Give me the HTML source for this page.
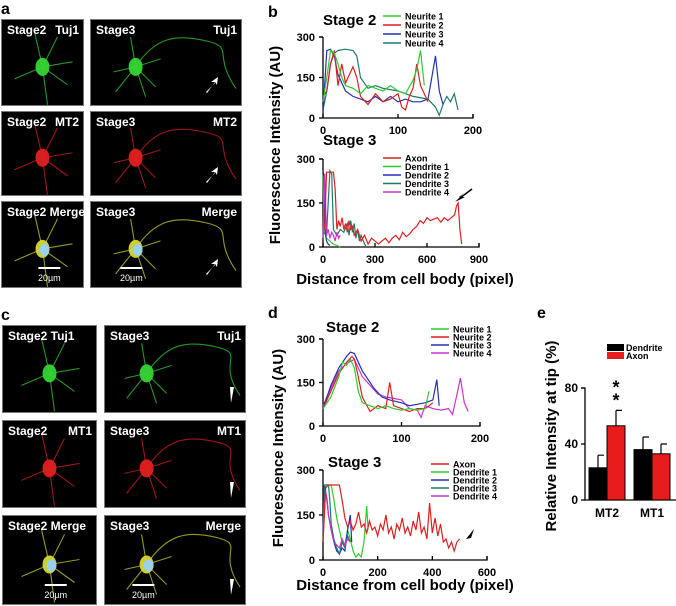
<!DOCTYPE html>
<html><head><meta charset="utf-8"><style>
body{margin:0;background:#fff;}
svg{display:block;font-family:"Liberation Sans",Arial,sans-serif;font-weight:bold;}
</style></head><body>
<svg id="fig" width="676" height="606" viewBox="0 0 676 606" xmlns="http://www.w3.org/2000/svg">
<g id="micro"></g>
<g id="charts"></g>
</svg>
<script>
// ---------- chart data ----------
const bS2N1=[[0,60],[5,150],[10,250],[15,240],[20,200],[25,150],[30,120],[40,110],[50,90],[60,120],[70,110],[80,100],[90,120],[100,100],[110,90],[120,140],[125,180],[130,250],[135,120]];
const bS2N2=[[0,80],[5,100],[10,200],[15,250],[20,120],[25,200],[30,130],[35,160],[40,190],[45,150],[50,80],[60,50],[70,90],[80,60],[90,70],[100,90],[105,40],[110,30],[115,80],[120,110],[125,200],[130,120],[140,60]];
const bS2N3=[[0,20],[5,250],[10,255],[15,230],[20,160],[25,130],[30,100],[40,80],[50,70],[60,60],[70,80],[80,60],[90,80],[100,60],[110,70],[120,60],[130,60],[140,70],[145,150],[150,230],[155,100],[160,50]];
const bS2N4=[[0,30],[5,100],[10,200],[15,240],[20,250],[30,255],[40,250],[45,230],[50,150],[60,110],[70,120],[80,110],[100,100],[120,80],[140,70],[150,40],[155,10],[160,50],[165,80],[170,60],[175,90],[180,30]];
const bS3Axon=[[10,60],[20,255],[60,255],[70,200],[80,60],[90,90],[100,70],[110,100],[120,60],[130,80],[140,50],[150,90],[160,60],[170,70],[180,40],[190,50],[200,60],[220,20],[240,40],[260,10],[280,30],[300,20],[320,10],[340,20],[360,30],[380,15],[400,30],[420,40],[440,25],[460,50],[480,35],[500,45],[520,60],[540,70],[560,90],[580,80],[600,100],[620,90],[640,95],[660,100],[680,85],[700,100],[720,90],[740,100],[760,110],[770,140],[780,150],[790,60],[800,10]];
const bS3D1=[[0,250],[5,100],[10,50],[20,30],[40,20],[60,10],[80,5],[100,0]];
const bS3D2=[[0,260],[5,240],[10,80],[15,40],[20,20],[30,10],[40,5]];
const bS3D3=[[0,50],[20,40],[40,260],[50,250],[60,60],[80,40],[100,60],[120,50],[140,80],[150,40],[160,90],[170,50],[180,80],[190,30],[200,60],[210,20],[220,40],[240,10],[250,0]];
const bS3D4=[[0,30],[10,250],[20,40],[30,60],[40,30],[50,50],[60,40],[70,20],[80,50],[90,30],[100,40]];
const dS2N1=[[0,60],[10,100],[20,170],[25,220],[30,210],[35,230],[40,200],[45,120],[50,80],[60,70],[70,60],[80,70],[90,60],[100,55],[110,60],[120,55],[130,60],[135,120]];
const dS2N2=[[0,60],[10,120],[20,180],[30,220],[37,240],[40,230],[45,170],[50,100],[60,50],[70,70],[80,60],[85,150],[90,70],[100,60],[110,50],[120,60],[130,60],[140,80]];
const dS2N3=[[0,60],[10,140],[20,200],[30,240],[35,255],[40,250],[50,190],[55,170],[65,130],[75,100],[85,90],[100,80],[110,70],[120,75],[130,80],[140,90],[145,160],[148,70]];
const dS2N4=[[0,70],[10,130],[20,190],[30,215],[40,230],[50,170],[60,140],[70,110],[80,100],[90,95],[100,90],[110,60],[120,55],[125,30],[130,70],[140,60],[150,55],[160,60],[165,40],[170,100],[175,165],[180,80],[185,50]];
const dS3Axon=[[0,60],[10,240],[20,250],[40,250],[60,250],[70,200],[80,140],[90,110],[100,130],[110,100],[120,120],[130,160],[140,110],[150,120],[160,90],[170,130],[180,100],[190,110],[200,80],[210,120],[220,100],[230,150],[240,90],[250,110],[260,70],[270,120],[280,100],[290,140],[300,90],[310,110],[320,80],[330,130],[340,100],[350,160],[360,90],[370,110],[380,70],[390,190],[400,90],[410,140],[420,80],[430,120],[440,60],[450,70],[460,40],[470,60],[480,30],[490,60],[500,70]];
const dS3D1=[[0,60],[10,250],[30,250],[40,200],[50,140],[60,100],[70,60],[80,50],[90,100],[100,70],[110,30],[120,10],[130,20],[140,10],[150,60],[160,180],[165,100]];
const dS3D2=[[0,100],[5,250],[15,200],[20,150],[30,100],[40,60],[50,30],[60,20],[70,40],[80,30],[90,100],[100,150],[105,60]];
const dS3D3=[[0,80],[5,250],[20,250],[25,200],[30,120],[40,70],[50,40],[60,20],[70,60],[80,40],[90,80],[100,60]];
const dS3D4=[[0,100],[10,230],[20,150],[30,100],[40,60],[50,50],[60,40],[70,70],[80,50],[90,70],[100,60]];
const eCategories=["MT2","MT1"];
const eDendrite=[23,36];
const eDendriteErr=[9,9];
const eAxon=[53,33];
const eAxonErr=[11,7];
const eTicks=[0,40,80];

const NS="http://www.w3.org/2000/svg";
const C={g:"#2ecc2e",r:"#dd2020",b:"#2230b0",t:"#1f7a6c",m:"#cc33cc"};
function mk(tag,attrs,parent,txt){const e=document.createElementNS(NS,tag);for(const k in attrs)e.setAttribute(k,attrs[k]);if(txt!==undefined)e.textContent=txt;parent.appendChild(e);return e;}
const charts=document.getElementById('charts');
const micro=document.getElementById('micro');

function axes(g,ox,oy,w,h,xmax,xticks,ymax,yticks){
  const sx=v=>ox+v/xmax*w, sy=v=>oy-v/ymax*h;
  const ax=mk('path',{d:`M${ox},${oy-h}H${ox-4}M${ox},${oy-h}V${oy}H${ox+w}v-4`,stroke:'#000','stroke-width':1.3,fill:'none'},g);
  
  
  yticks.forEach(v=>{mk('path',{d:`M${ox-4},${sy(v)}H${ox}`,stroke:'#000','stroke-width':1.3},g);
    const t=mk('text',{x:ox-8,y:sy(v)+4,'text-anchor':'end','font-size':11},g,String(v));
    
    });
  xticks.forEach(v=>{mk('path',{d:`M${sx(v)},${oy}v-4`,stroke:'#000','stroke-width':1.3},g);
    const t=mk('text',{x:sx(v),y:oy+16,'text-anchor':'middle','font-size':11},g,String(v));
    
    });
  return {sx,sy};
}
function line(g,s,data,col,name){
  const p=mk('path',{d:data.map((d,i)=>(i?'L':'M')+s.sx(d[0]).toFixed(1)+','+s.sy(d[1]).toFixed(1)).join(''),stroke:col,'stroke-width':1.2,fill:'none'},g);
  
  
}
function legend(g,x,y,items,dy){
  items.forEach((it,i)=>{mk('path',{d:`M${x},${y+i*dy}h18`,stroke:it[1],'stroke-width':1.5},g);
    const t=mk('text',{x:x+22,y:y+i*dy+3.5,'font-size':9},g,it[0]);
    
    });
}
function txt(g,x,y,s,size,name,anchor,rot){
  const a={x,y,'font-size':size,'text-anchor':anchor||'start'};
  if(rot)a.transform=`rotate(-90 ${x} ${y})`;
  const t=mk('text',a,g,s);
  
  
}

// ---- panel b ----
(function(){
  const g=mk('g',{},charts);
  
  
  txt(g,268,17,'b',16,'panel-label-b');
  txt(g,323,25,'Stage 2',15,'stage2-title');
  let s=axes(g,323,118,150,81,200,[0,100,200],300,[0,150,300]);
  line(g,s,bS2N4,C.t,'neurite-4-line');line(g,s,bS2N3,C.b,'neurite-3-line');line(g,s,bS2N2,C.r,'neurite-2-line');line(g,s,bS2N1,C.g,'neurite-1-line');
  legend(g,383,16,[['Neurite 1',C.g],['Neurite 2',C.r],['Neurite 3',C.b],['Neurite 4',C.t]],9);
  txt(g,323,145,'Stage 3',15,'stage3-title');
  s=axes(g,323,247,156,88,900,[0,300,600,900],300,[0,150,300]);
  line(g,s,bS3D1,C.g,'dendrite-1-line');line(g,s,bS3D2,C.b,'dendrite-2-line');line(g,s,bS3D3,C.t,'dendrite-3-line');line(g,s,bS3D4,C.m,'dendrite-4-line');line(g,s,bS3Axon,C.r,'axon-line');
  legend(g,383,158,[['Axon',C.r],['Dendrite 1',C.g],['Dendrite 2',C.b],['Dendrite 3',C.t],['Dendrite 4',C.m]],8.5);
  mk('path',{d:'M472,189 L460,198',stroke:'#000','stroke-width':1.5},g);
  mk('path',{d:'M455,202 L464,193 L459,197 L465,197Z',fill:'#000'},g);
  txt(g,280,145,'Fluorescence Intensity (AU)',15,'y-axis-title','middle',true);
  txt(g,405,284,'Distance from cell body (pixel)',15,'x-axis-title','middle');
})();

// ---- panel d ----
(function(){
  const g=mk('g',{},charts);
  
  
  txt(g,268,318,'d',16,'panel-label-d');
  txt(g,326,332,'Stage 2',15,'stage2-title');
  let s=axes(g,323,426,157,87,200,[0,100,200],300,[0,150,300]);
  line(g,s,dS2N4,C.m,'neurite-4-line');line(g,s,dS2N3,C.b,'neurite-3-line');line(g,s,dS2N2,C.r,'neurite-2-line');line(g,s,dS2N1,C.g,'neurite-1-line');
  legend(g,431,329,[['Neurite 1',C.g],['Neurite 2',C.r],['Neurite 3',C.b],['Neurite 4',C.m]],8);
  txt(g,328,467,'Stage 3',15,'stage3-title');
  s=axes(g,323,560,164,90,600,[0,200,400,600],300,[0,150,300]);
  line(g,s,dS3D1,C.g,'dendrite-1-line');line(g,s,dS3D2,C.b,'dendrite-2-line');line(g,s,dS3D3,C.t,'dendrite-3-line');line(g,s,dS3D4,C.m,'dendrite-4-line');line(g,s,dS3Axon,C.r,'axon-line');
  legend(g,431,464,[['Axon',C.r],['Dendrite 1',C.g],['Dendrite 2',C.b],['Dendrite 3',C.t],['Dendrite 4',C.m]],8);
  mk('path',{d:'M474,529 L466,539 L471,538 L470,541Z',fill:'#000'},g);
  txt(g,283,448,'Fluorescence Intensity (AU)',15,'y-axis-title','middle',true);
  txt(g,405,590,'Distance from cell body (pixel)',15,'x-axis-title','middle');
})();

// ---- panel e ----
(function(){
  const g=mk('g',{},charts);
  
  
  txt(g,537,318,'e',16,'panel-label-e');
  const ox=585,oy=500,h=112,ymax=80;
  const sy=v=>oy-v/ymax*h;
  mk('path',{d:`M${ox-4},${sy(80)}H${ox}V${oy}H676`,stroke:'#000','stroke-width':1.3,fill:'none'},g);
  eTicks.forEach(v=>{mk('path',{d:`M${ox-4},${sy(v)}H${ox}`,stroke:'#000','stroke-width':1.3},g);
    txt(g,ox-7,sy(v)+4,String(v),12,'y-tick-label','end');});
  const gw=45, bw=18;
  eCategories.forEach((c,i)=>{
    const x0=ox+4+i*gw;
    [[eDendrite,eDendriteErr,'#000','dendrite'],[eAxon,eAxonErr,'#e81c1c','axon']].forEach((ser,j)=>{
      const v=ser[0][i],e=ser[1][i],x=x0+j*bw;
      mk('path',{d:`M${x+bw/2},${sy(v)}V${sy(v+e)}M${x+bw/2},${sy(v+e)}h6`,stroke:'#000','stroke-width':1.2},g);
      const r=mk('rect',{x:x,y:sy(v),width:bw,height:oy-sy(v),fill:ser[2],stroke:'#000','stroke-width':1},g);
      
      
    });
    txt(g,x0+bw,oy+17,c,12,'x-tick-label','middle');
  });
  txt(g,ox+4+bw*1.5,sy(eAxon[0]+eAxonErr[0])-4,'*',18,'significance-star','middle');
  txt(g,ox+4+bw*1.5,sy(eAxon[0]+eAxonErr[0])-17,'*',18,'significance-star','middle');
  mk('rect',{x:607,y:344,width:17,height:7,fill:'#000'},g);
  mk('rect',{x:607,y:352,width:17,height:7,fill:'#e81c1c'},g);
  txt(g,626,351,'Dendrite',9,'legend-entry');
  txt(g,626,359,'Axon',9,'legend-entry');
  txt(g,556,436,'Relative Intensity at tip (%)',15,'y-axis-title','middle',true);
})();

// ---- micrographs ----
function panel(x,y,w,h,lt,rt,col,wide,name,scale,mark){
  const g=mk('g',{},micro);
  
  
  mk('rect',{x:x+.5,y:y+.5,width:w-1,height:h-1,fill:'#000',stroke:'#777','stroke-width':1},g);
  const cx=wide?x+w*0.3:x+w*0.5, cy=y+h*0.55;
  let d;
  if(wide) d=`M${cx},${cy} C${cx+20},${cy-30} ${cx+40},${y+15} ${cx+70},${y+h*0.25} S${x+w-30},${y+h*0.4} ${x+w-6},${y+h*0.8} M${cx},${cy} L${cx-22},${cy+5} M${cx},${cy} L${cx-20},${cy+25} M${cx},${cy} L${cx+25},${cy-8} M${cx},${cy} L${cx+20},${cy+20} M${cx},${cy} L${cx-5},${cy-30} M${cx},${cy} L${cx+10},${cy+30}`;
  else d=`M${cx},${cy} L${cx-28},${cy+12} M${cx},${cy} L${cx+25},${cy+18} M${cx},${cy} L${cx-8},${cy-35} M${cx},${cy} L${cx+15},${cy-30} M${cx},${cy} L${cx+5},${cy+38} M${cx},${cy} L${cx+30},${cy-5}`;
  mk('path',{d,stroke:col,'stroke-width':1.1,fill:'none',opacity:0.7},g);
  mk('ellipse',{cx,cy,rx:7,ry:9,fill:col,opacity:0.95},g);
  if(col==='#d8d830') mk('ellipse',{cx:cx+2,cy:cy+1,rx:5,ry:6,fill:'#9ad0f0'},g);
  const t1=mk('text',{x:x+6,y:y+15,fill:'#fff','font-size':12},g,lt);
  
  
  if(rt){const t2=mk('text',{x:x+w-5,y:y+15,fill:'#fff','font-size':12,'text-anchor':'end'},g,rt);
    
    }
  if(scale){mk('path',{d:`M${x+w*(wide?0.2:0.45)},${y+h-20}h22`,stroke:'#fff','stroke-width':2},g);
    const t3=mk('text',{x:x+w*(wide?0.2:0.45)+11,y:y+h-7,fill:'#fff','font-size':9,'text-anchor':'middle','font-weight':'normal'},g,'20µm');
    
    }
  if(mark==='arrow') mk('path',{d:`M${x+w-36},${y+h-14} l10,-10 l-5,0 l7,-5 l-1,8 l-2,-3 l-8,11Z`,fill:'#fff'},g);
  if(mark==='tri') mk('path',{d:`M${x+w-16},${y+h-26} l4,0 l-3,16Z`,fill:'#fff'},g);
}
const G='#34d634',R='#e02020',Y='#d8d830';
panel(1,19,83,87,'Stage2','Tuj1',G,false,'a-stage2-tuj1');
panel(90,19,152,87,'Stage3','Tuj1',G,true,'a-stage3-tuj1',false,'arrow');
panel(1,111,83,85,'Stage2','MT2',R,false,'a-stage2-mt2');
panel(90,111,152,85,'Stage3','MT2',R,true,'a-stage3-mt2',false,'arrow');
panel(1,201,83,87,'Stage2 Merge','',Y,false,'a-stage2-merge',true);
panel(90,201,152,87,'Stage3','Merge',Y,true,'a-stage3-merge',true,'arrow');
panel(2,325,95,88,'Stage2 Tuj1','',G,false,'c-stage2-tuj1');
panel(104,325,142,88,'Stage3','Tuj1',G,true,'c-stage3-tuj1',false,'tri');
panel(2,420,95,88,'Stage2','MT1',R,false,'c-stage2-mt1');
panel(104,420,142,88,'Stage3','MT1',R,true,'c-stage3-mt1',false,'tri');
panel(2,515,95,90,'Stage2 Merge','',Y,false,'c-stage2-merge',true);
panel(104,515,142,90,'Stage3','Merge',Y,true,'c-stage3-merge',true,'tri');
txt(micro,1,14,'a',16,'panel-label-a');
txt(micro,1,320,'c',16,'panel-label-c');
</script>
</body></html>
